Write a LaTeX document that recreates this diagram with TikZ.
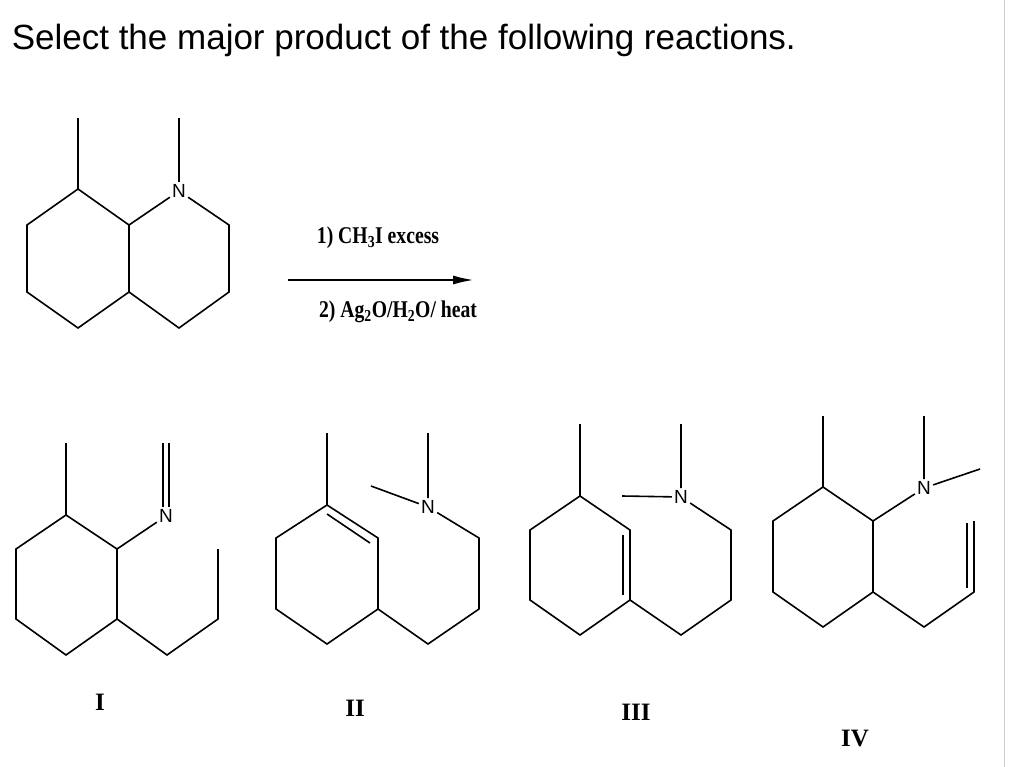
\documentclass[tikz,border=0pt]{standalone}
\usepackage{fontspec}
\usetikzlibrary{arrows.meta}
\setmainfont{Liberation Serif}
\setsansfont{Liberation Sans}
\begin{document}
\begin{tikzpicture}[x=1pt,y=-1pt,line width=1.6pt,line cap=butt,
  atom/.style={font=\sffamily\fontsize{19}{19}\selectfont,inner sep=1.5pt},
  cond/.style={font=\bfseries\fontsize{24}{24}\selectfont\addfontfeature{FakeStretch=0.82}},
  lbl/.style={font=\bfseries\fontsize{25}{25}\selectfont}]
\useasboundingbox (0,0) rectangle (1024,767);
\draw[line width=1pt,black!20] (1004,0) -- (1004,767);
\node[anchor=base west,font=\sffamily\fontsize{35}{35}\selectfont,inner sep=0] (title) at (11,50) {Select the major product of the following reactions.};
% starting material
\node[atom] (N0) at (179,191) {N};
\foreach \n/\x/\y in {a/78/189,am/78/118,b/27/225,c/27/292,d/78/328,e/129/292,f/129/225,nm/179/118,g/229/225,h/229/292,i/179/328}
  \coordinate (s\n) at (\x,\y);
\draw (sam) -- (sa);
\draw (sa) -- (sb) -- (sc) -- (sd) -- (se) -- (sf) -- cycle;
\draw (sf) -- (N0) -- (sg) -- (sh) -- (si) -- (se);
\draw (snm) -- (N0);
\coordinate (a1) at (288,280); \coordinate (a2) at (473,280);
\draw[line width=1.2pt,-{Latex[length=20pt,width=9pt]}] (a1) -- (a2);
\node[cond] (c1) at (378,238) {1) CH\textsubscript{3}I excess};
\node[cond] (c2) at (398,312) {2) Ag\textsubscript{2}O/H\textsubscript{2}O/ heat};
% product I
\node[atom] (N1) at (166,516) {N};
\foreach \n/\x/\y in {a/66/515,am/66/443,b/16/549,c/16/619,d/66/655,e/117/619,f/117/549,p/167/655,q/218/619,r/218/549}
  \coordinate (p\n) at (\x,\y);
\draw (pam) -- (pa);
\draw (pa) -- (pb) -- (pc) -- (pd) -- (pe) -- (pf) -- cycle;
\draw (pf) -- (N1);
\draw (pe) -- (pp) -- (pq) -- (pr);
\draw ([xshift=-3pt]N1.north) -- (163,443) ([xshift=3pt]N1.north) -- (169,443);
\node[lbl] (L1) at (100,702) {I};
% product II
\node[atom] (N2) at (428,507) {N};
\foreach \n/\x/\y in {a/327/505,am/327/433,b/276/538,c/276/609,d/327/644,e/378/609,f/378/538,m1/428/433,m2/371/486,g/479/538,h/479/609,i/428/644}
  \coordinate (q\n) at (\x,\y);
\draw (qam) -- (qa);
\draw (qa) -- (qb) -- (qc) -- (qd) -- (qe) -- (qf) -- cycle;
\draw (327,514) -- (370,543);
\draw (qm1) -- (N2) -- (qm2);
\draw (N2) -- (qg) -- (qh) -- (qi) -- (qe);
\node[lbl] (L2) at (355,708) {II};
% product III
\node[atom] (N3) at (681,497) {N};
\foreach \n/\x/\y in {a/580/496,am/580/424,b/530/530,c/530/600,d/580/635,e/630/600,f/630/530,m1/681/424,m2/622/496,g/731/530,h/731/600,i/681/635}
  \coordinate (r\n) at (\x,\y);
\draw (ram) -- (ra);
\draw (ra) -- (rb) -- (rc) -- (rd) -- (re) -- (rf) -- cycle;
\draw (623,535) -- (623,595);
\draw (rm1) -- (N3) -- (rm2);
\draw (N3) -- (rg) -- (rh) -- (ri) -- (re);
\node[lbl] (L3) at (636,712) {III};
% product IV
\node[atom] (N4) at (924,488) {N};
\foreach \n/\x/\y in {a/823/487,am/823/416,b/773/521,c/773/592,d/823/627,e/873/592,f/873/521,m1/924/416,m2/980/469,g/924/627,h/974/592,k/974/521}
  \coordinate (t\n) at (\x,\y);
\draw (tam) -- (ta);
\draw (ta) -- (tb) -- (tc) -- (td) -- (te) -- (tf) -- cycle;
\draw (tf) -- (N4);
\draw (tm1) -- (N4) -- (tm2);
\draw (te) -- (tg) -- (th) -- (tk);
\draw (967,523) -- (967,588);
\node[lbl] (L4) at (855,738) {IV};
\end{tikzpicture}
\end{document}
